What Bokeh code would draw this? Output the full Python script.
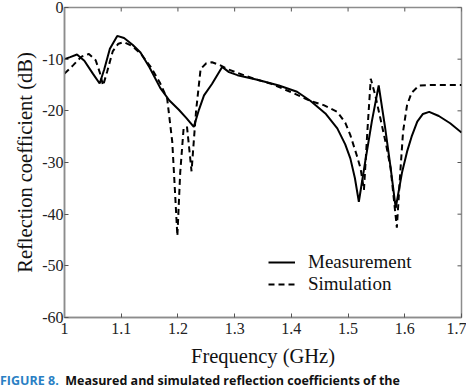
from math import pi
from bokeh.plotting import figure
from bokeh.models import FixedTicker, Range1d, Legend, LegendItem, Div
from bokeh.layouts import column
from bokeh.embed import file_html
from bokeh.resources import INLINE

meas_f = [1.0, 1.01, 1.022, 1.035, 1.05, 1.062, 1.07, 1.08, 1.093, 1.105, 1.12, 1.134, 1.15, 1.169, 1.185,
          1.2016, 1.215, 1.228, 1.237, 1.246, 1.26, 1.278, 1.29, 1.305, 1.34, 1.378, 1.41, 1.434, 1.46, 1.481,
          1.495, 1.504, 1.512, 1.519, 1.53, 1.542, 1.554, 1.565, 1.575, 1.584, 1.595, 1.604, 1.612, 1.622,
          1.632, 1.643, 1.66, 1.68, 1.7]
meas_db = [-10.0, -9.6, -9.1, -10.3, -12.8, -14.7, -12.0, -8.0, -5.5, -5.9, -7.2, -8.7, -11.6, -15.6, -18.0,
           -19.8, -21.4, -23.1, -19.8, -17.0, -14.8, -11.5, -12.5, -13.1, -14.0, -15.1, -16.3, -18.1, -20.5, -23.4,
           -26.5, -29.2, -33.0, -37.6, -30.0, -22.0, -15.1, -23.0, -31.0, -38.8, -32.0, -27.9, -25.0, -22.1,
           -20.6, -20.2, -21.0, -22.4, -24.2]

sim_f = [1.0, 1.015, 1.03, 1.043, 1.055, 1.062, 1.068, 1.075, 1.085, 1.095, 1.105, 1.12, 1.135, 1.152, 1.168,
         1.181, 1.19, 1.195, 1.199, 1.204, 1.21, 1.216, 1.224, 1.232, 1.24, 1.25, 1.26, 1.275, 1.287, 1.316,
         1.34, 1.363, 1.4, 1.434, 1.457, 1.481, 1.495, 1.504, 1.515, 1.522, 1.528, 1.534, 1.54, 1.548, 1.557,
         1.567, 1.575, 1.586, 1.592, 1.597, 1.604, 1.612, 1.625, 1.645, 1.7]
sim_db = [-12.8, -11.2, -9.5, -9.0, -10.2, -12.5, -15.1, -12.5, -8.5, -7.0, -6.7, -7.5, -9.0, -11.5, -14.5,
          -17.6, -26.0, -36.0, -44.2, -32.0, -23.4, -23.1, -31.7, -20.0, -11.9, -10.8, -10.6, -11.2, -11.9, -13.1,
          -14.0, -14.7, -16.4, -18.1, -18.9, -20.2, -22.3, -24.7, -28.5, -31.1, -35.3, -24.0, -13.8, -17.0, -21.5,
          -26.5, -31.1, -42.6, -32.0, -24.0, -18.9, -16.5, -15.1, -15.0, -15.0]

x_ticks = [1.0, 1.1, 1.2, 1.3, 1.4, 1.5, 1.6, 1.7]
x_labels = ["1", "1.1", "1.2", "1.3", "1.4", "1.5", "1.6", "1.7"]
y_ticks = [0, -10, -20, -30, -40, -50, -60]
y_labels = ["0", "-10", "-20", "-30", "-40", "-50", "-60"]
x_min, x_max = 1.0, 1.7
y_min, y_max = -60, 0

FONT = "Liberation Serif"
AX = "#8c8c8c"
TICK = "#555555"

p = figure(width=466, height=372, output_backend="svg", toolbar_location=None,
           x_range=Range1d(x_min, x_max), y_range=Range1d(y_min, y_max),
           min_border_left=64, min_border_right=5, min_border_top=7, min_border_bottom=55,
           x_axis_label="Frequency (GHz)", y_axis_label="Reflection coefficient (dB)")
p.grid.visible = False
p.outline_line_color = AX
p.outline_line_width = 1.5
p.background_fill_color = "white"
p.border_fill_color = "white"

for ax in (p.xaxis[0], p.yaxis[0]):
    ax.major_tick_in = 4
    ax.major_tick_out = 0
    ax.minor_tick_line_color = None
    ax.axis_line_color = AX
    ax.axis_line_width = 1.5
    ax.major_tick_line_color = TICK
    ax.major_label_text_font = FONT
    ax.major_label_text_font_size = "16px"
    ax.major_label_text_color = "#222222"
    ax.axis_label_text_font = FONT
    ax.axis_label_text_font_size = "20.5px"
    ax.axis_label_text_font_style = "normal"
    ax.axis_label_text_color = "#111111"

p.xaxis.ticker = FixedTicker(ticks=x_ticks)
p.xaxis.major_label_overrides = dict(zip(x_ticks, x_labels))
p.yaxis.ticker = FixedTicker(ticks=y_ticks)
p.yaxis.major_label_overrides = dict(zip(y_ticks, y_labels))
p.xaxis.major_label_standoff = 5
p.xaxis.axis_label_standoff = 8
p.yaxis.major_label_standoff = 1
p.yaxis.axis_label_standoff = 3

# inward ticks on the top and right edges of the box
p.ray(x=x_ticks, y=[y_max] * len(x_ticks), length=4, length_units="screen",
      angle=-pi / 2, line_color=TICK, line_width=1)
p.ray(x=[x_max] * len(y_ticks), y=y_ticks, length=4, length_units="screen",
      angle=pi, line_color=TICK, line_width=1)

r1 = p.line(meas_f, meas_db, line_color="black", line_width=2)
r2 = p.line(sim_f, sim_db, line_color="black", line_width=2, line_dash="6 4")

legend = Legend(items=[LegendItem(label="Measurement", renderers=[r1]),
                       LegendItem(label="Simulation", renderers=[r2])],
                location=(204, 22))
legend.background_fill_alpha = 0
legend.border_line_color = None
legend.label_text_font = FONT
legend.label_text_font_size = "19px"
legend.label_text_color = "#111111"
legend.glyph_width = 27
legend.label_standoff = 13
legend.spacing = 0
legend.label_height = 20
legend.glyph_height = 20
legend.padding = 0
legend.margin = 0
p.add_layout(legend, "center")

caption = Div(
    text='<span style="color:#2a7fc4">FIGURE 8.</span>&nbsp;&nbsp;Measured and simulated reflection coefficients of the',
    width=466, height=18, margin=(0, 0, 0, 0),
    styles={"font-family": "Open Sans", "font-weight": "bold", "font-size": "12.5px",
            "color": "#111111", "white-space": "nowrap", "line-height": "18px"})

layout = column(p, caption, spacing=0)
open("out.html", "w").write(file_html(layout, INLINE))
